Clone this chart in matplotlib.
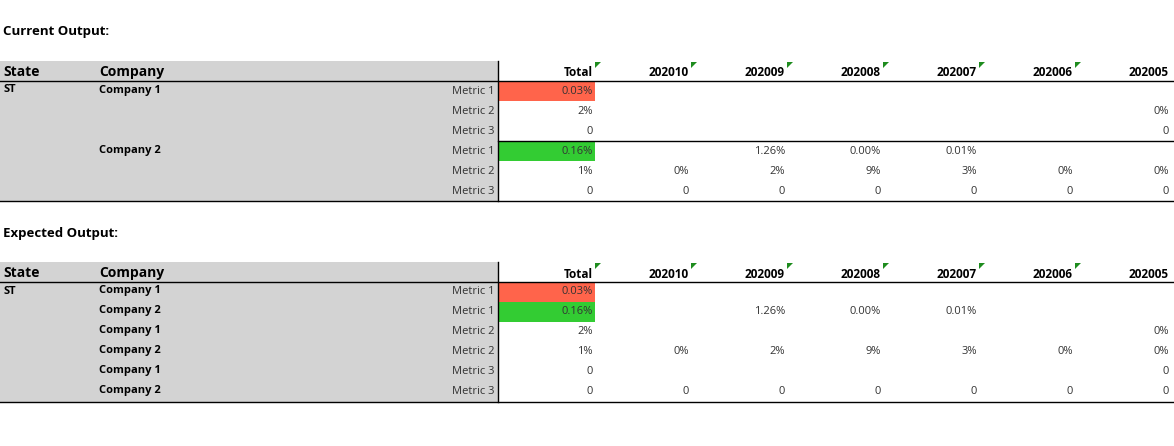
import matplotlib.pyplot as plt
from matplotlib.patches import Rectangle, Polygon

periods = ["Total", "202010", "202009", "202008", "202007", "202006", "202005"]

# (company label, metric, values per column; "" = empty)
current_rows = [
    ("Company 1", "Metric 1", ["0.03%", "", "", "", "", "", ""]),
    ("", "Metric 2", ["2%", "", "", "", "", "", "0%"]),
    ("", "Metric 3", ["0", "", "", "", "", "", "0"]),
    ("Company 2", "Metric 1", ["0.16%", "", "1.26%", "0.00%", "0.01%", "", ""]),
    ("", "Metric 2", ["1%", "0%", "2%", "9%", "3%", "0%", "0%"]),
    ("", "Metric 3", ["0", "0", "0", "0", "0", "0", "0"]),
]
expected_rows = [
    ("Company 1", "Metric 1", ["0.03%", "", "", "", "", "", ""]),
    ("Company 2", "Metric 1", ["0.16%", "", "1.26%", "0.00%", "0.01%", "", ""]),
    ("Company 1", "Metric 2", ["2%", "", "", "", "", "", "0%"]),
    ("Company 2", "Metric 2", ["1%", "0%", "2%", "9%", "3%", "0%", "0%"]),
    ("Company 1", "Metric 3", ["0", "", "", "", "", "", "0"]),
    ("Company 2", "Metric 3", ["0", "0", "0", "0", "0", "0", "0"]),
]
total_colors = {"0.03%": "#FF644B", "0.16%": "#33CC33"}

FONT = "Open Sans"
GRAY = "#D3D3D3"
CELL = 8
HEAD = 8.5


def draw_table(ax, top, title, rows, group_lines):
    ax.text(3, top - 29, title, fontsize=9.5, fontweight="bold", va="center", family=FONT)
    hdr_top, hdr_bot = top, top + 20
    ax.add_patch(Rectangle((0, hdr_top), 498, 20 + 20 * len(rows), color=GRAY, lw=0))
    ax.text(3, hdr_top + 11, "State", fontsize=10, fontweight="bold", va="center", family=FONT)
    ax.text(99, hdr_top + 11, "Company", fontsize=10, fontweight="bold", va="center", family=FONT)
    for i, p in enumerate(periods):
        xr = 593 + 96 * i
        ax.text(xr, hdr_top + 12, p, fontsize=HEAD, fontweight="bold", ha="right", va="center", family=FONT)
        if i < len(periods) - 1:
            ax.add_patch(Polygon([[xr + 2, hdr_top + 1], [xr + 8, hdr_top + 1], [xr + 2, hdr_top + 7]],
                                 color="#1E8C1E", lw=0))
    ax.text(3, hdr_bot + 9, "ST", fontsize=CELL, fontweight="bold", va="center", family=FONT)
    for r, (comp, metric, vals) in enumerate(rows):
        yc = hdr_bot + 10 + 20 * r
        if comp:
            ax.text(99, yc - 1, comp, fontsize=CELL, fontweight="bold", va="center", family=FONT)
        ax.text(495, yc, metric, fontsize=CELL, ha="right", va="center", family=FONT, color="#333333")
        for i, v in enumerate(vals):
            xr = 593 + 96 * i
            if i == 0 and v in total_colors:
                ax.add_patch(Rectangle((499, yc - 10), 96, 20, color=total_colors[v], lw=0))
            if v:
                ax.text(xr, yc, v, fontsize=CELL, ha="right", va="center", family=FONT, color="#333333")
    bottom = hdr_bot + 20 * len(rows)
    ax.plot([0, 1174], [hdr_bot, hdr_bot], color="black", lw=1)
    ax.plot([0, 1174], [bottom, bottom], color="black", lw=1)
    ax.plot([498, 498], [hdr_top, bottom], color="black", lw=1)
    for g in group_lines:
        y = hdr_bot + 20 * g
        ax.plot([498, 1174], [y, y], color="black", lw=1)


fig = plt.figure(figsize=(11.74, 4.46), dpi=100)
ax = fig.add_axes([0, 0, 1, 1])
ax.set_xlim(0, 1174)
ax.set_ylim(446, 0)
ax.axis("off")

draw_table(ax, 61, "Current Output:", current_rows, [3])
draw_table(ax, 262, "Expected Output:", expected_rows, [])

fig.savefig("out.png", dpi=100)
